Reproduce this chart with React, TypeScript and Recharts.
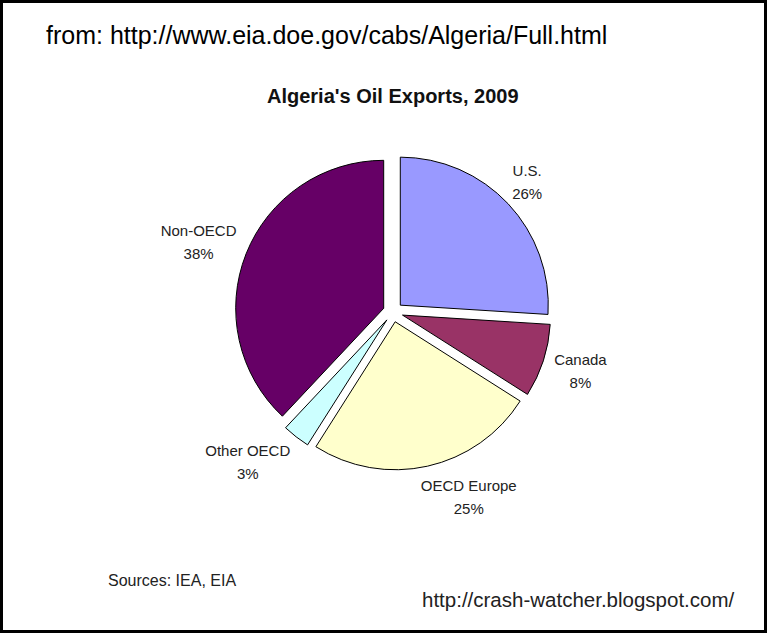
import { PieChart, Pie, Cell, Sector } from 'recharts';

const regions = ['U.S.', 'Canada', 'OECD Europe', 'Other OECD', 'Non-OECD'];
const shares = [26, 8, 25, 3, 38];
const colors = ['#9999FF', '#993366', '#FFFFCC', '#CCFFFF', '#660066'];

const data = regions.map((name, i) => ({ name, value: shares[i] }));

const RAD = Math.PI / 180;
const EXPLODE = 10;

const ExplodedSlice = (props: any) => {
  const { cx, cy, midAngle } = props;
  const dx = EXPLODE * Math.cos(-midAngle * RAD);
  const dy = EXPLODE * Math.sin(-midAngle * RAD);
  return <Sector {...props} cx={cx + dx} cy={cy + dy} />;
};

const renderLabel = (props: any) => {
  const { cx, cy, midAngle, outerRadius, name, value } = props;
  const cos = Math.cos(-midAngle * RAD);
  const sin = Math.sin(-midAngle * RAD);
  const r = outerRadius + 42;
  const half = name.length * 4.6;
  const x = cx + r * cos + Math.sign(cos) * 1.2 * (half - 22);
  const y = cy + r * sin;
  return (
    <text
      textAnchor="middle"
      fontFamily="'Liberation Sans', Arial, sans-serif"
      fontSize={15}
      fill="#222"
    >
      <tspan x={x} y={y - 11.5} dominantBaseline="central">{name}</tspan>
      <tspan x={x} y={y + 11.5} dominantBaseline="central">{`${value}%`}</tspan>
    </text>
  );
};

const font = "'Liberation Sans', Arial, sans-serif";

export default function App() {
  return (
    <div style={{ position: 'absolute', left: 0, top: 0, width: 767, height: 633, background: '#fff', fontFamily: font, color: '#000' }}>
      <PieChart width={767} height={633} margin={{ top: 0, right: 0, bottom: 0, left: 0 }}>
        <Pie
          data={data}
          dataKey="value"
          nameKey="name"
          cx={393}
          cy={312}
          outerRadius={148}
          startAngle={90}
          endAngle={-270}
          stroke="#000"
          strokeWidth={1}
          label={renderLabel}
          labelLine={false}
          shape={ExplodedSlice}
          isAnimationActive={false}
        >
          {data.map((d, i) => (
            <Cell key={d.name} fill={colors[i]} />
          ))}
        </Pie>
      </PieChart>

      <div style={{ position: 'absolute', left: 46, top: 23, fontSize: 25, lineHeight: 1, whiteSpace: 'nowrap' }}>
        from: http://www.eia.doe.gov/cabs/Algeria/Full.html
      </div>
      <div style={{ position: 'absolute', left: 267, top: 86, fontSize: 20, fontWeight: 'bold', lineHeight: 1, whiteSpace: 'nowrap', color: '#111' }}>
        Algeria's Oil Exports, 2009
      </div>
      <div style={{ position: 'absolute', left: 108, top: 573, fontSize: 16, lineHeight: 1, whiteSpace: 'nowrap', color: '#222' }}>
        Sources: IEA, EIA
      </div>
      <div style={{ position: 'absolute', left: 422, top: 590, fontSize: 20.5, lineHeight: 1, whiteSpace: 'nowrap', color: '#222' }}>
        http://crash-watcher.blogspot.com/
      </div>
      <div style={{ position: 'absolute', left: 0, top: 0, width: 767, height: 633, boxSizing: 'border-box', border: '3px solid #000', pointerEvents: 'none' }} />
    </div>
  );
}
